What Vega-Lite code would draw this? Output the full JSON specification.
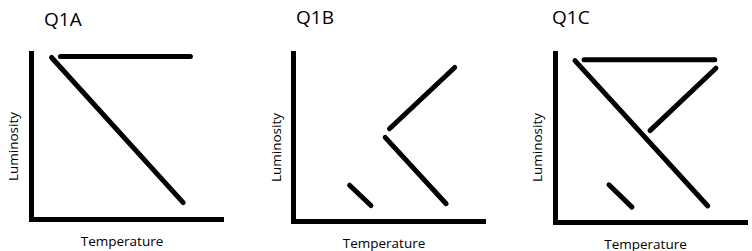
{
  "$schema": "https://vega.github.io/schema/vega-lite/v6.json",
  "background": "white",
  "padding": {"left": 6, "top": 8, "right": 5, "bottom": 2},
  "bounds": "flush",
  "spacing": 72,
  "datasets": {
    "a": [
      {"seg": "flat", "t": 15.5, "l": 97.9},
      {"seg": "flat", "t": 83.9, "l": 97.9},
      {"seg": "diag", "t": 10.8, "l": 97.3},
      {"seg": "diag", "t": 80.1, "l": 9.9}
    ],
    "b": [
      {"seg": "short", "t": 29.8, "l": 21.3},
      {"seg": "short", "t": 41.0, "l": 9.2},
      {"seg": "down", "t": 48.5, "l": 49.8},
      {"seg": "down", "t": 80.6, "l": 10.3},
      {"seg": "up", "t": 50.8, "l": 54.9},
      {"seg": "up", "t": 85.1, "l": 91.4}
    ],
    "c": [
      {"seg": "flat", "t": 15.3, "l": 96.0},
      {"seg": "flat", "t": 84.1, "l": 96.0},
      {"seg": "diag", "t": 10.5, "l": 95.5},
      {"seg": "diag", "t": 80.4, "l": 9.5},
      {"seg": "up", "t": 50.0, "l": 54.1},
      {"seg": "up", "t": 84.7, "l": 91.0},
      {"seg": "short", "t": 28.4, "l": 22.0},
      {"seg": "short", "t": 40.5, "l": 8.8}
    ]
  },
  "hconcat": [
    {
      "width": 190,
      "height": 166,
      "title": {"text": "Q1A", "offset": 16, "dx": 13},
      "data": {"name": "a"},
      "mark": {"type": "line", "color": "black", "strokeWidth": 5, "strokeCap": "round"},
      "encoding": {
        "x": {"field": "t", "type": "quantitative", "scale": {"domain": [0, 100], "nice": false, "zero": false}, "axis": {"title": "Temperature", "titleX": 90.5, "titleY": 26}},
        "y": {"field": "l", "type": "quantitative", "scale": {"domain": [0, 100], "nice": false, "zero": false}, "axis": {"title": "Luminosity", "titleX": -14, "titleY": 93}},
        "detail": {"field": "seg"}
      }
    },
    {
      "width": 190,
      "height": 168,
      "title": {"text": "Q1B", "offset": 25, "dx": 3},
      "data": {"name": "b"},
      "mark": {"type": "line", "color": "black", "strokeWidth": 5, "strokeCap": "round"},
      "encoding": {
        "x": {"field": "t", "type": "quantitative", "scale": {"domain": [0, 100], "nice": false, "zero": false}, "axis": {"title": "Temperature", "titleX": 90.5, "titleY": 26}},
        "y": {"field": "l", "type": "quantitative", "scale": {"domain": [0, 100], "nice": false, "zero": false}, "axis": {"title": "Luminosity", "titleX": -13, "titleY": 94}},
        "detail": {"field": "seg"}
      }
    },
    {
      "width": 190,
      "height": 169,
      "title": {"text": "Q1C", "offset": 22, "dx": -3},
      "data": {"name": "c"},
      "mark": {"type": "line", "color": "black", "strokeWidth": 5, "strokeCap": "round"},
      "encoding": {
        "x": {"field": "t", "type": "quantitative", "scale": {"domain": [0, 100], "nice": false, "zero": false}, "axis": {"title": "Temperature", "titleX": 90, "titleY": 26}},
        "y": {"field": "l", "type": "quantitative", "scale": {"domain": [0, 100], "nice": false, "zero": false}, "axis": {"title": "Luminosity", "titleX": -14, "titleY": 94}},
        "detail": {"field": "seg"}
      }
    }
  ],
  "config": {
    "view": {"stroke": null},
    "font": "Open Sans",
    "title": {"anchor": "start", "fontSize": 19, "fontWeight": "normal", "color": "black", "font": "Open Sans", "baseline": "alphabetic", "frame": "group"},
    "axis": {
      "domain": true,
      "domainColor": "black",
      "domainWidth": 5,
      "domainCap": "square",
      "ticks": false,
      "labels": false,
      "grid": false,
      "titleFont": "Open Sans",
      "titleFontSize": 13.5,
      "titleFontWeight": "normal",
      "titleColor": "black",
      "titleAlign": "center",
      "titleBaseline": "alphabetic"
    }
  }
}
